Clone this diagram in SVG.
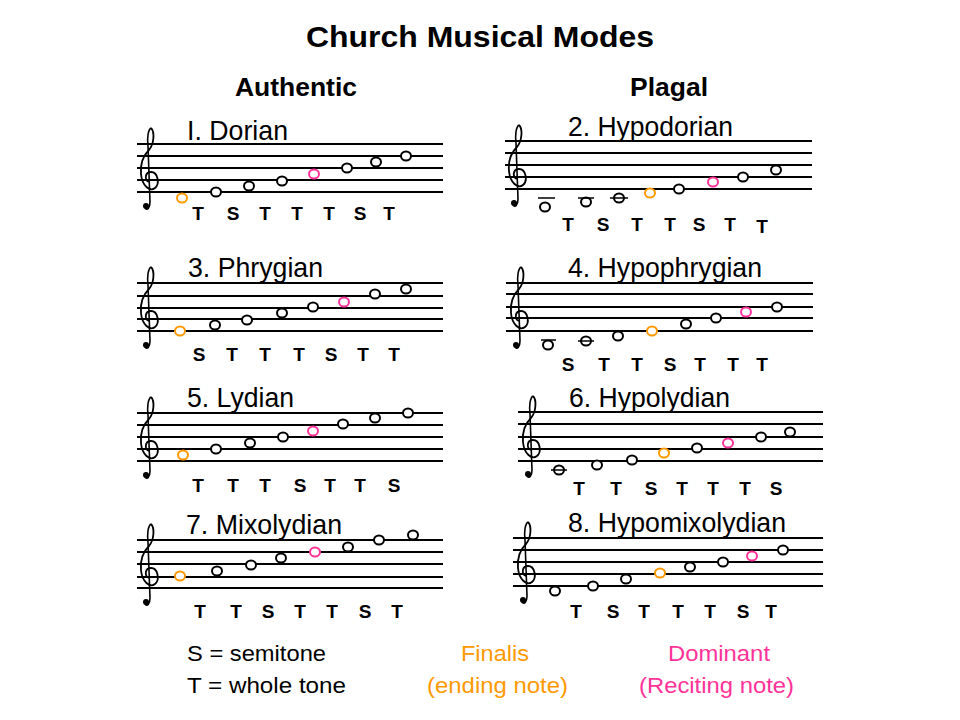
<svg xmlns="http://www.w3.org/2000/svg" xmlns:xlink="http://www.w3.org/1999/xlink" width="960" height="720" viewBox="0 0 960 720">
<style>
text{font-family:"Liberation Sans",Arial,sans-serif;}
.h{font-weight:bold;text-anchor:middle;}
.t{font-size:28px;}
.lb{font-size:19px;font-weight:bold;text-anchor:middle;}
.lg{font-size:22px;}
.st line{stroke:#000;stroke-width:1.8;}
.n{fill:#fff;stroke:#000;stroke-width:2;}
.f{fill:#fff;stroke:#FF9900;stroke-width:2;}
.d{fill:#fff;stroke:#FF3399;stroke-width:2;}
.lx{stroke:#000;stroke-width:1.5;}
</style>
<defs>
<g id="clef">
<path d="M11 -16 C15 -12 14 0 9 6 C3 12 0 20 1 30 C2 42 10 48 15 44 C20 40 18 28 11 28 C5 28 4 36 9 38" fill="none" stroke="#000" stroke-width="1.8"/>
<path d="M11 -16 C8 -14 7 -6 8 2 L10 58 C10 64 7 67 5 64" fill="none" stroke="#000" stroke-width="1.6"/>
<circle cx="6" cy="62" r="3" fill="#000"/>
</g>
</defs>
<rect width="960" height="720" fill="#fff"/>
<g id="headings">
<text class="h" x="480" y="47" font-size="30" textLength="348" lengthAdjust="spacingAndGlyphs">Church Musical Modes</text>
<text class="h" x="296" y="96" font-size="26" textLength="122" lengthAdjust="spacingAndGlyphs">Authentic</text>
<text class="h" x="669" y="96" font-size="26" textLength="78" lengthAdjust="spacingAndGlyphs">Plagal</text>
</g>
<g id="mode1">
<g class="st"><line x1="137" y1="144" x2="443" y2="144"/><line x1="137" y1="156" x2="443" y2="156"/><line x1="137" y1="168" x2="443" y2="168"/><line x1="137" y1="180" x2="443" y2="180"/><line x1="137" y1="192" x2="443" y2="192"/></g>
<use xlink:href="#clef" x="140" y="144"/>
<text class="t" x="187" y="140" textLength="101" lengthAdjust="spacingAndGlyphs">I. Dorian</text>
<ellipse class="f" cx="182" cy="198" rx="5" ry="4.5"/><ellipse class="n" cx="216" cy="192" rx="5" ry="4.5"/><ellipse class="n" cx="249" cy="186" rx="5" ry="4.5"/><ellipse class="n" cx="282" cy="181" rx="5" ry="4.5"/><ellipse class="d" cx="314" cy="174" rx="5" ry="4.5"/><ellipse class="n" cx="347" cy="168" rx="5" ry="4.5"/><ellipse class="n" cx="376" cy="162" rx="5" ry="4.5"/><ellipse class="n" cx="406" cy="156" rx="5" ry="4.5"/>
<text class="lb" x="198" y="220">T</text><text class="lb" x="233" y="220">S</text><text class="lb" x="265" y="220">T</text><text class="lb" x="297" y="220">T</text><text class="lb" x="329" y="220">T</text><text class="lb" x="360" y="220">S</text><text class="lb" x="389" y="220">T</text>
</g>
<g id="mode2">
<g class="st"><line x1="505" y1="141" x2="812" y2="141"/><line x1="505" y1="153" x2="812" y2="153"/><line x1="505" y1="165" x2="812" y2="165"/><line x1="505" y1="177" x2="812" y2="177"/><line x1="505" y1="189" x2="812" y2="189"/></g>
<use xlink:href="#clef" x="508" y="141"/>
<text class="t" x="568" y="136" textLength="165" lengthAdjust="spacingAndGlyphs">2. Hypodorian</text>
<line class="lx" x1="538" y1="198" x2="555" y2="198"/>
<ellipse class="n" cx="545" cy="207" rx="5" ry="4.5"/><ellipse class="n" cx="586" cy="202" rx="5" ry="4.5"/><ellipse class="n" cx="619" cy="198" rx="5" ry="4.5"/><line class="lx" x1="610" y1="198" x2="628" y2="198"/><line class="lx" x1="578" y1="198" x2="594" y2="198"/><ellipse class="f" cx="650" cy="193" rx="5" ry="4.5"/><ellipse class="n" cx="679" cy="189" rx="5" ry="4.5"/><ellipse class="d" cx="713" cy="182" rx="5" ry="4.5"/><ellipse class="n" cx="743" cy="177" rx="5" ry="4.5"/><ellipse class="n" cx="776" cy="170" rx="5" ry="4.5"/>
<text class="lb" x="568" y="231">T</text><text class="lb" x="603" y="231">S</text><text class="lb" x="637" y="231">T</text><text class="lb" x="670" y="231">T</text><text class="lb" x="699" y="231">S</text><text class="lb" x="730" y="231">T</text><text class="lb" x="762" y="233">T</text>
</g>
<g id="mode3">
<g class="st"><line x1="137" y1="283" x2="443" y2="283"/><line x1="137" y1="296" x2="443" y2="296"/><line x1="137" y1="308" x2="443" y2="308"/><line x1="137" y1="319" x2="443" y2="319"/><line x1="137" y1="331" x2="443" y2="331"/></g>
<use xlink:href="#clef" x="140" y="283"/>
<text class="t" x="188" y="277" textLength="135" lengthAdjust="spacingAndGlyphs">3. Phrygian</text>
<ellipse class="f" cx="180" cy="331" rx="5" ry="4.5"/><ellipse class="n" cx="215" cy="325" rx="5" ry="4.5"/><ellipse class="n" cx="247" cy="320" rx="5" ry="4.5"/><ellipse class="n" cx="282" cy="313" rx="5" ry="4.5"/><ellipse class="n" cx="313" cy="307" rx="5" ry="4.5"/><ellipse class="d" cx="344" cy="302" rx="5" ry="4.5"/><ellipse class="n" cx="375" cy="294" rx="5" ry="4.5"/><ellipse class="n" cx="406" cy="289" rx="5" ry="4.5"/>
<text class="lb" x="199" y="361">S</text><text class="lb" x="232" y="361">T</text><text class="lb" x="265" y="361">T</text><text class="lb" x="299" y="361">T</text><text class="lb" x="331" y="361">S</text><text class="lb" x="363" y="361">T</text><text class="lb" x="394" y="361">T</text>
</g>
<g id="mode4">
<g class="st"><line x1="506" y1="283" x2="813" y2="283"/><line x1="506" y1="294" x2="813" y2="294"/><line x1="506" y1="307" x2="813" y2="307"/><line x1="506" y1="318" x2="813" y2="318"/><line x1="506" y1="331" x2="813" y2="331"/></g>
<use xlink:href="#clef" x="510" y="283"/>
<text class="t" x="568" y="277" textLength="194" lengthAdjust="spacingAndGlyphs">4. Hypophrygian</text>
<ellipse class="n" cx="548" cy="345" rx="5" ry="4.5"/><line class="lx" x1="541" y1="340" x2="556" y2="340"/><ellipse class="n" cx="586" cy="341" rx="5" ry="4.5"/><line class="lx" x1="578" y1="341" x2="594" y2="341"/><ellipse class="n" cx="618" cy="336" rx="5" ry="4.5"/><ellipse class="f" cx="652" cy="331" rx="5" ry="4.5"/><ellipse class="n" cx="686" cy="324" rx="5" ry="4.5"/><ellipse class="n" cx="716" cy="318" rx="5" ry="4.5"/><ellipse class="d" cx="746" cy="312" rx="5" ry="4.5"/><ellipse class="n" cx="777" cy="307" rx="5" ry="4.5"/>
<text class="lb" x="568" y="371">S</text><text class="lb" x="604" y="371">T</text><text class="lb" x="637" y="371">T</text><text class="lb" x="670" y="371">S</text><text class="lb" x="700" y="371">T</text><text class="lb" x="733" y="371">T</text><text class="lb" x="762" y="371">T</text>
</g>
<g id="mode5">
<g class="st"><line x1="137" y1="413" x2="443" y2="413"/><line x1="137" y1="425" x2="443" y2="425"/><line x1="137" y1="437" x2="443" y2="437"/><line x1="137" y1="449" x2="443" y2="449"/><line x1="137" y1="461" x2="443" y2="461"/></g>
<use xlink:href="#clef" x="140" y="413"/>
<text class="t" x="187" y="407" textLength="107" lengthAdjust="spacingAndGlyphs">5. Lydian</text>
<ellipse class="f" cx="183" cy="455" rx="5" ry="4.5"/><ellipse class="n" cx="216" cy="449" rx="5" ry="4.5"/><ellipse class="n" cx="250" cy="443" rx="5" ry="4.5"/><ellipse class="n" cx="283" cy="437" rx="5" ry="4.5"/><ellipse class="d" cx="313" cy="431" rx="5" ry="4.5"/><ellipse class="n" cx="343" cy="424" rx="5" ry="4.5"/><ellipse class="n" cx="375" cy="418" rx="5" ry="4.5"/><ellipse class="n" cx="408" cy="413" rx="5" ry="4.5"/>
<text class="lb" x="198" y="492">T</text><text class="lb" x="233" y="492">T</text><text class="lb" x="265" y="492">T</text><text class="lb" x="300" y="492">S</text><text class="lb" x="330" y="492">T</text><text class="lb" x="360" y="492">T</text><text class="lb" x="394" y="492">S</text>
</g>
<g id="mode6">
<g class="st"><line x1="518" y1="412" x2="823" y2="412"/><line x1="518" y1="424" x2="823" y2="424"/><line x1="518" y1="437" x2="823" y2="437"/><line x1="518" y1="449" x2="823" y2="449"/><line x1="518" y1="461" x2="823" y2="461"/></g>
<use xlink:href="#clef" x="522" y="412"/>
<text class="t" x="569" y="407" textLength="161" lengthAdjust="spacingAndGlyphs">6. Hypolydian</text>
<ellipse class="n" cx="559" cy="470" rx="5" ry="4.5"/><line class="lx" x1="551" y1="470" x2="567" y2="470"/><ellipse class="n" cx="597" cy="465" rx="5" ry="4.5"/><ellipse class="n" cx="632" cy="460" rx="5" ry="4.5"/><ellipse class="f" cx="664" cy="453" rx="5" ry="4.5"/><ellipse class="n" cx="697" cy="448" rx="5" ry="4.5"/><ellipse class="d" cx="728" cy="443" rx="5" ry="4.5"/><ellipse class="n" cx="761" cy="437" rx="5" ry="4.5"/><ellipse class="n" cx="790" cy="432" rx="5" ry="4.5"/>
<text class="lb" x="579" y="495">T</text><text class="lb" x="616" y="495">T</text><text class="lb" x="651" y="495">S</text><text class="lb" x="682" y="495">T</text><text class="lb" x="713" y="495">T</text><text class="lb" x="745" y="495">T</text><text class="lb" x="776" y="495">S</text>
</g>
<g id="mode7">
<g class="st"><line x1="137" y1="540" x2="443" y2="540"/><line x1="137" y1="552" x2="443" y2="552"/><line x1="137" y1="564" x2="443" y2="564"/><line x1="137" y1="577" x2="443" y2="577"/><line x1="137" y1="588" x2="443" y2="588"/></g>
<use xlink:href="#clef" x="140" y="540"/>
<text class="t" x="186" y="534" textLength="156" lengthAdjust="spacingAndGlyphs">7. Mixolydian</text>
<ellipse class="f" cx="180" cy="576" rx="5" ry="4.5"/><ellipse class="n" cx="217" cy="571" rx="5" ry="4.5"/><ellipse class="n" cx="251" cy="565" rx="5" ry="4.5"/><ellipse class="n" cx="281" cy="558" rx="5" ry="4.5"/><ellipse class="d" cx="315" cy="552" rx="5" ry="4.5"/><ellipse class="n" cx="348" cy="547" rx="5" ry="4.5"/><ellipse class="n" cx="379" cy="540" rx="5" ry="4.5"/><ellipse class="n" cx="413" cy="535" rx="5" ry="4.5"/>
<text class="lb" x="200" y="618">T</text><text class="lb" x="236" y="618">T</text><text class="lb" x="268" y="618">S</text><text class="lb" x="300" y="618">T</text><text class="lb" x="332" y="618">T</text><text class="lb" x="365" y="618">S</text><text class="lb" x="397" y="618">T</text>
</g>
<g id="mode8">
<g class="st"><line x1="513" y1="538" x2="823" y2="538"/><line x1="513" y1="550" x2="823" y2="550"/><line x1="513" y1="562" x2="823" y2="562"/><line x1="513" y1="574" x2="823" y2="574"/><line x1="513" y1="586" x2="823" y2="586"/></g>
<use xlink:href="#clef" x="517" y="538"/>
<text class="t" x="568" y="532" textLength="218" lengthAdjust="spacingAndGlyphs">8. Hypomixolydian</text>
<ellipse class="n" cx="555" cy="591" rx="5" ry="4.5"/><ellipse class="n" cx="593" cy="586" rx="5" ry="4.5"/><ellipse class="n" cx="626" cy="579" rx="5" ry="4.5"/><ellipse class="f" cx="660" cy="573" rx="5" ry="4.5"/><ellipse class="n" cx="690" cy="567" rx="5" ry="4.5"/><ellipse class="n" cx="723" cy="562" rx="5" ry="4.5"/><ellipse class="d" cx="752" cy="556" rx="5" ry="4.5"/><ellipse class="n" cx="783" cy="550" rx="5" ry="4.5"/>
<text class="lb" x="576" y="618">T</text><text class="lb" x="613" y="618">S</text><text class="lb" x="644" y="618">T</text><text class="lb" x="678" y="618">T</text><text class="lb" x="710" y="618">T</text><text class="lb" x="743" y="618">S</text><text class="lb" x="771" y="618">T</text>
</g>
<g id="legend">
<text class="lg" x="187" y="661" textLength="139" lengthAdjust="spacingAndGlyphs">S = semitone</text>
<text class="lg" x="187" y="693" textLength="159" lengthAdjust="spacingAndGlyphs">T = whole tone</text>
<text class="lg" x="461" y="661" fill="#FF9900" textLength="68" lengthAdjust="spacingAndGlyphs">Finalis</text>
<text class="lg" x="427" y="693" fill="#FF9900" textLength="141" lengthAdjust="spacingAndGlyphs">(ending note)</text>
<text class="lg" x="668" y="661" fill="#FF3399" textLength="102" lengthAdjust="spacingAndGlyphs">Dominant</text>
<text class="lg" x="639" y="693" fill="#FF3399" textLength="155" lengthAdjust="spacingAndGlyphs">(Reciting note)</text>
</g>
</svg>
